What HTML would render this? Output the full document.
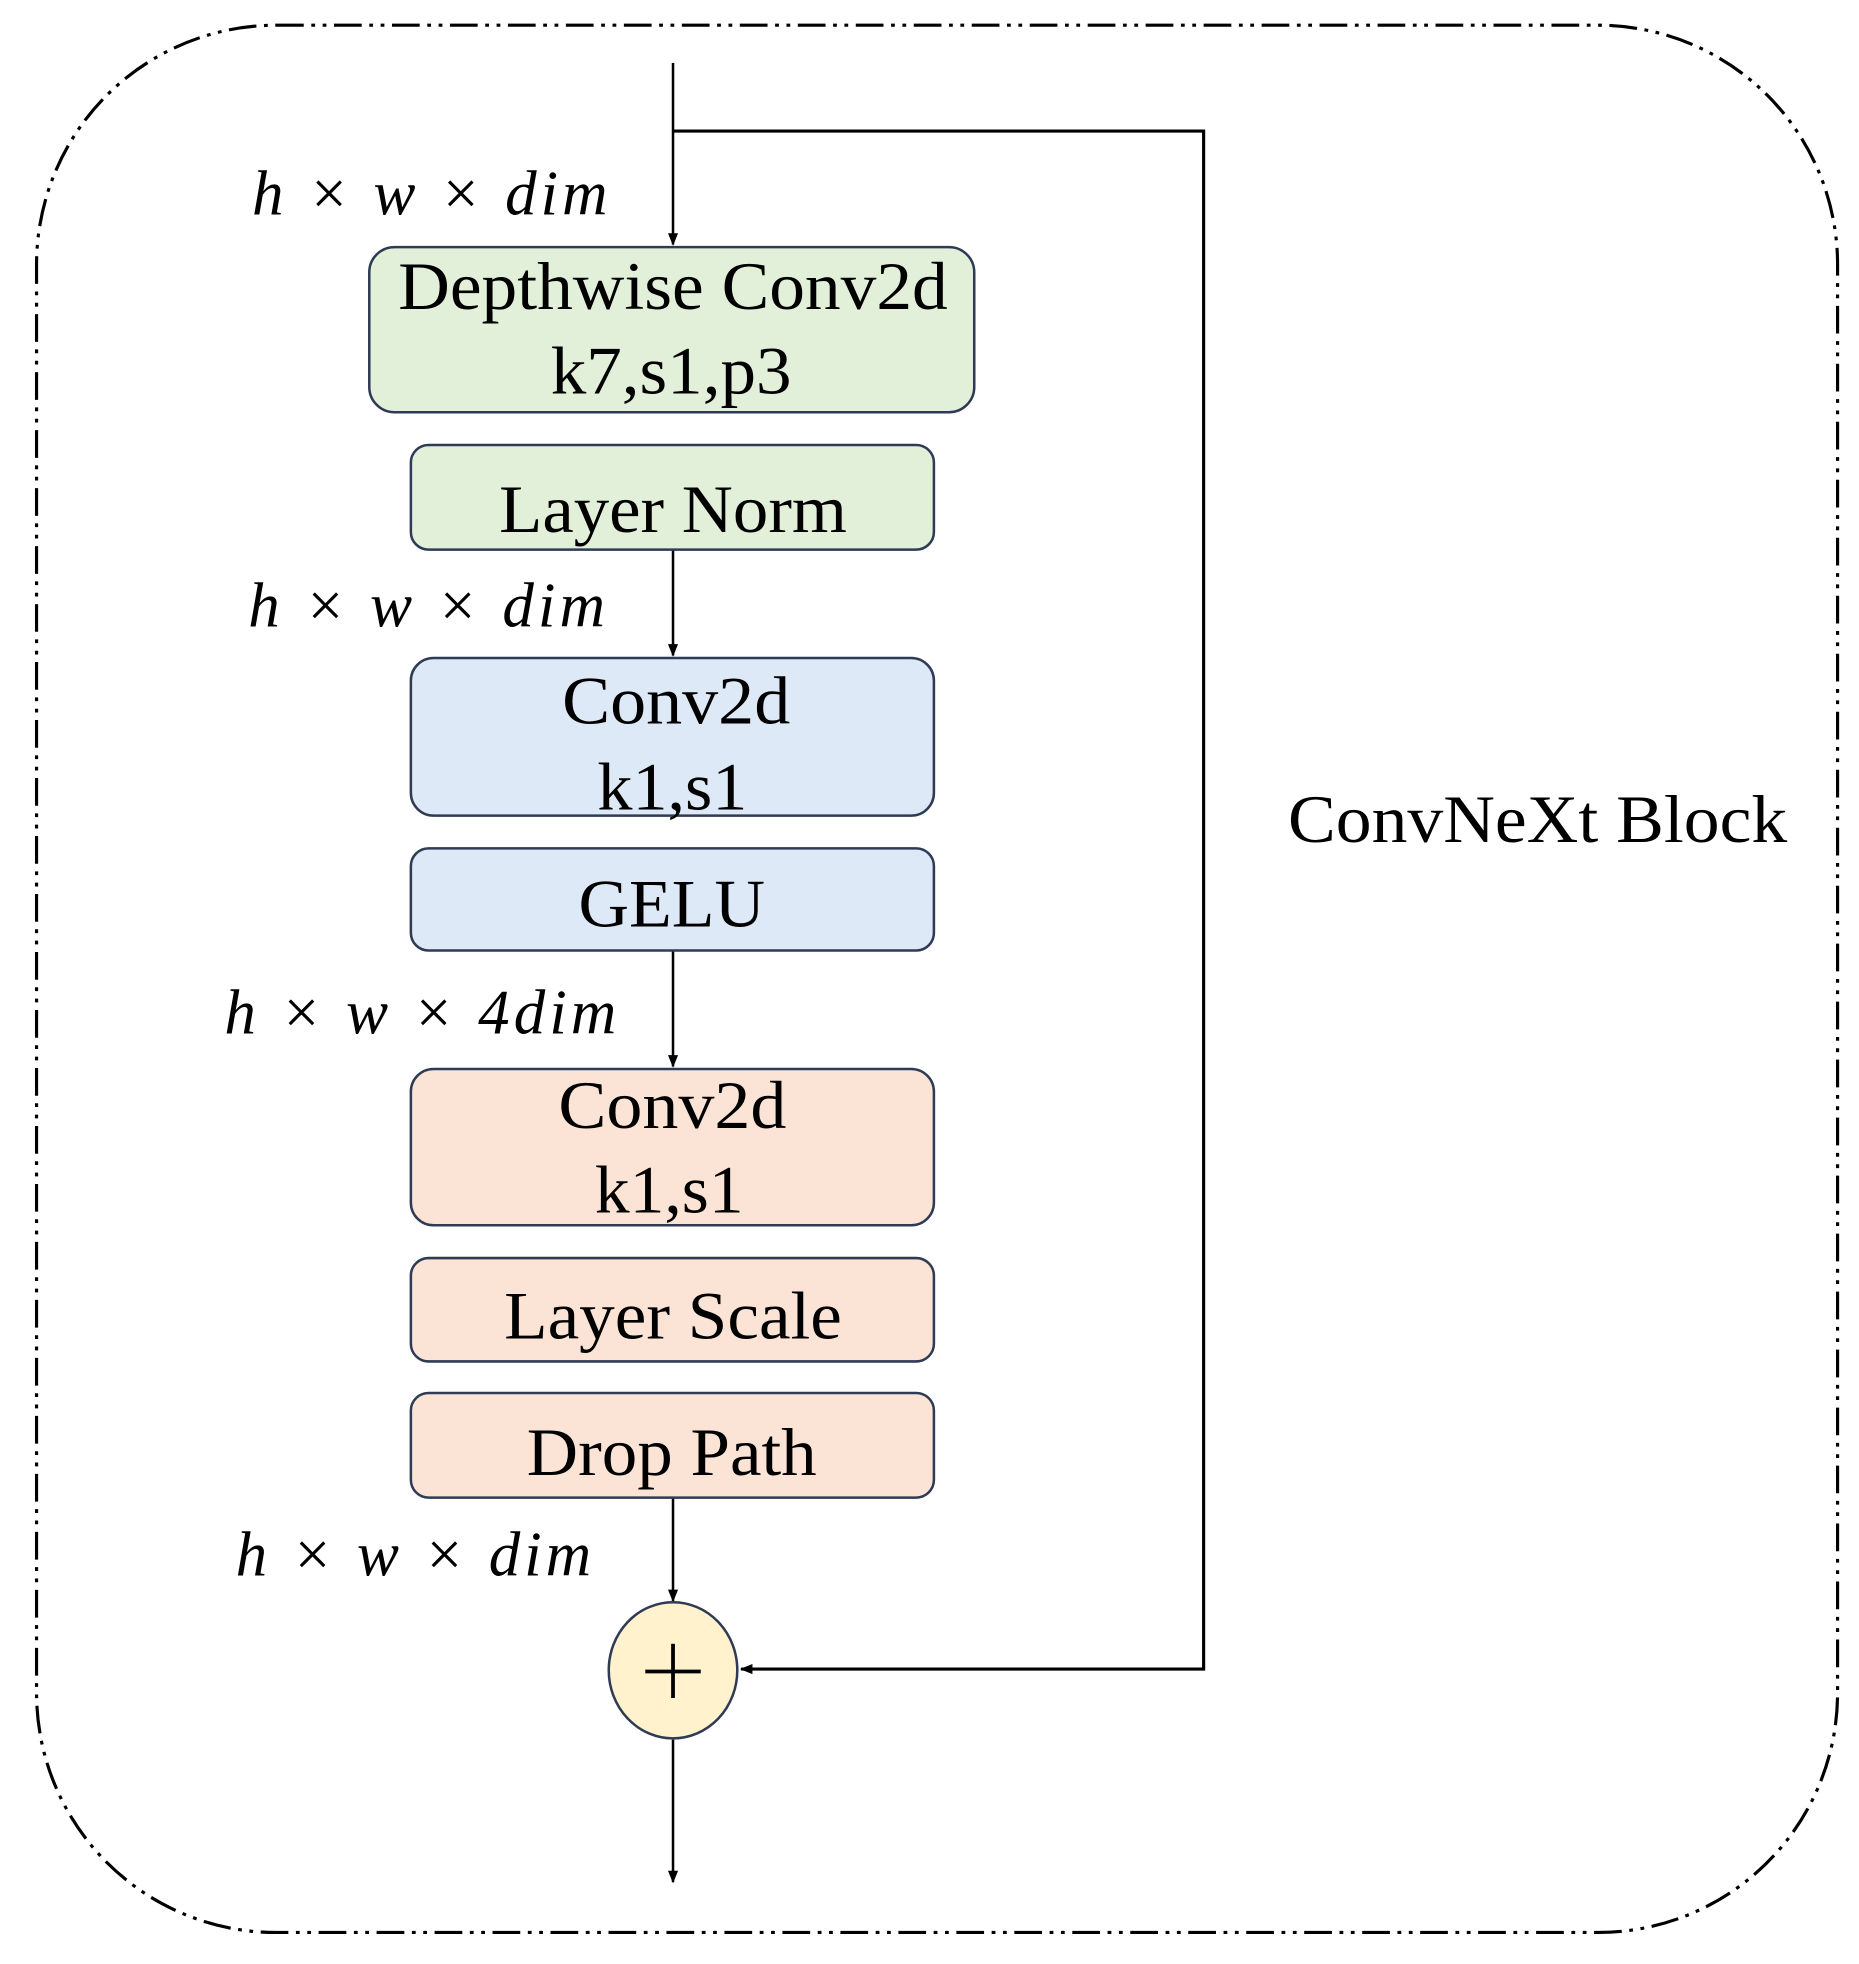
<!DOCTYPE html>
<html><head><style>html,body{margin:0;padding:0;background:#fff}svg{display:block}</style></head>
<body>
<svg width="1859" height="1964" viewBox="0 0 1475 1558" preserveAspectRatio="none" xmlns="http://www.w3.org/2000/svg" font-family="Liberation Serif, serif">
<defs><marker id="a" markerWidth="10" markerHeight="10" refX="9" refY="5" orient="auto" markerUnits="userSpaceOnUse"><path d="M0,1 L10,5 L0,9 Z" fill="#000"/></marker></defs>
<rect x="29" y="20" width="1429" height="1513" rx="190" ry="190" fill="none" stroke="#000" stroke-width="2.5" stroke-dasharray="22,6,3,6,3,6"/>
<g stroke="#000" stroke-width="2" fill="none">
<line x1="534" y1="50" x2="534" y2="194" marker-end="url(#a)"/>
<polyline points="534,104 955,104 955,1324 588,1324" stroke-width="2.5" marker-end="url(#a)"/>
<line x1="534" y1="436" x2="534" y2="520" marker-end="url(#a)"/>
<line x1="534" y1="754" x2="534" y2="846" marker-end="url(#a)"/>
<line x1="534" y1="1188" x2="534" y2="1270" marker-end="url(#a)"/>
<line x1="534" y1="1380" x2="534" y2="1493" marker-end="url(#a)"/>
</g>
<g stroke="#2f3b55" stroke-width="2">
<rect x="293" y="196" width="480" height="131" rx="20" fill="#e2efd9"/>
<rect x="326" y="353" width="415" height="83" rx="14" fill="#e2efd9"/>
<rect x="326" y="522" width="415" height="125" rx="18" fill="#dde9f6"/>
<rect x="326" y="673" width="415" height="81" rx="14" fill="#dde9f6"/>
<rect x="326" y="848" width="415" height="124" rx="18" fill="#fbe4d6"/>
<rect x="326" y="998" width="415" height="82" rx="14" fill="#fbe4d6"/>
<rect x="326" y="1105" width="415" height="83" rx="14" fill="#fbe4d6"/>
<ellipse cx="534" cy="1325" rx="51" ry="54" fill="#fff2cc"/>
</g>
<g stroke="#000" stroke-width="3"><line x1="534" y1="1304" x2="534" y2="1347"/><line x1="512" y1="1326" x2="556" y2="1326"/></g>
<g font-size="54" fill="#000" lengthAdjust="spacingAndGlyphs">
<text x="316" y="245" textLength="436" lengthAdjust="spacingAndGlyphs">Depthwise Conv2d</text>
<text x="437" y="312" textLength="191" lengthAdjust="spacingAndGlyphs">k7,s1,p3</text>
<text x="396" y="422" textLength="276" lengthAdjust="spacingAndGlyphs">Layer Norm</text>
<text x="446" y="574" textLength="181" lengthAdjust="spacingAndGlyphs">Conv2d</text>
<text x="474" y="642" textLength="119" lengthAdjust="spacingAndGlyphs">k1,s1</text>
<text x="459" y="735" textLength="148" lengthAdjust="spacingAndGlyphs">GELU</text>
<text x="443" y="895" textLength="181" lengthAdjust="spacingAndGlyphs">Conv2d</text>
<text x="472" y="962" textLength="118" lengthAdjust="spacingAndGlyphs">k1,s1</text>
<text x="400" y="1062" textLength="268" lengthAdjust="spacingAndGlyphs">Layer Scale</text>
<text x="418" y="1170" textLength="230" lengthAdjust="spacingAndGlyphs">Drop Path</text>
<text x="1022" y="668" textLength="396" lengthAdjust="spacingAndGlyphs">ConvNeXt Block</text>
</g>
<g font-size="50" font-style="italic">
<text x="200" y="170" textLength="282" lengthAdjust="spacing">h × w × dim</text>
<text x="197" y="497" textLength="283" lengthAdjust="spacing">h × w × dim</text>
<text x="178" y="820" textLength="311" lengthAdjust="spacing">h × w × 4dim</text>
<text x="187" y="1250" textLength="282" lengthAdjust="spacing">h × w × dim</text>
</g>
</svg>
</body></html>
